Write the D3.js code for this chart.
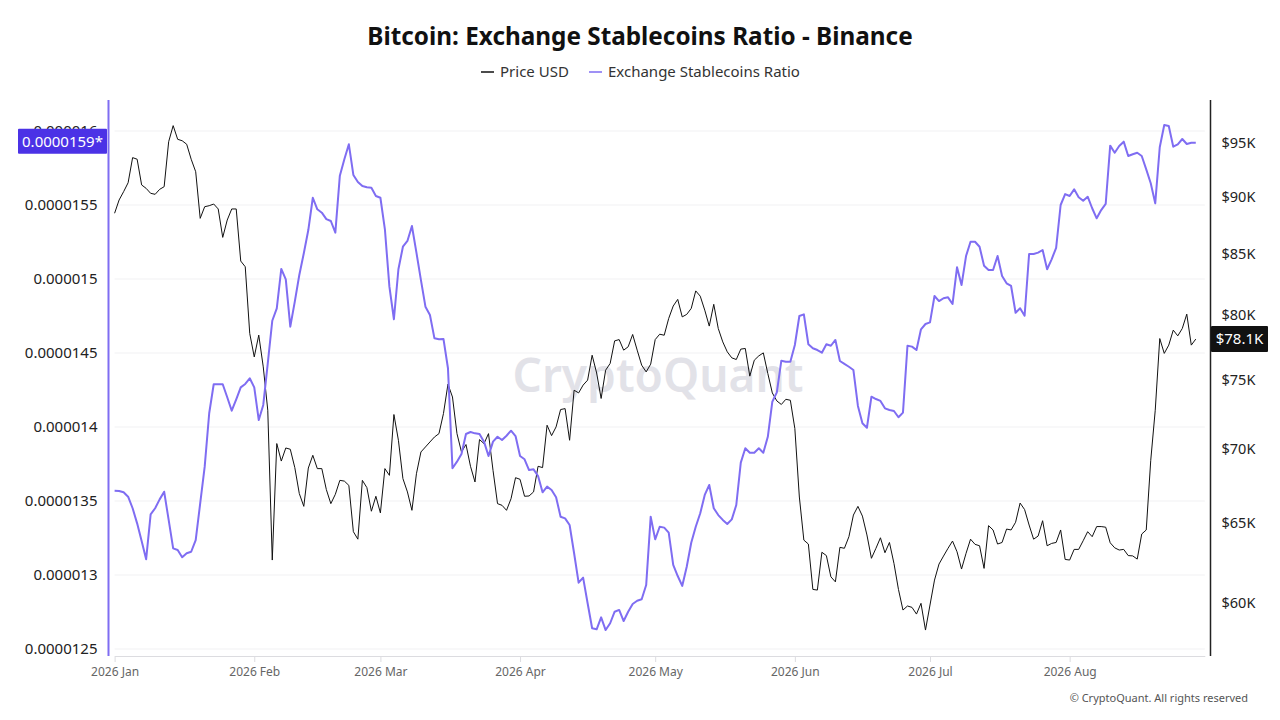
<!DOCTYPE html>
<html>
<head>
<meta charset="utf-8">
<script src="https://cdn.jsdelivr.net/npm/d3@7"></script>
<style>
  body { margin: 0; background: #fff; }
  #chart { width: 1280px; height: 720px; }
  text { font-family: "Noto Sans", "Open Sans", sans-serif; }
</style>
</head>
<body>
<div id="chart"></div>
<script>
// daily values from 2026-01-01
const priceK = [
  88.56, 89.74, 90.49, 91.30, 93.62, 93.47, 91.10, 90.79, 90.34, 90.25,
  90.70, 90.94, 95.12, 96.66, 95.35, 95.21, 94.88, 93.47, 92.31, 88.11,
  89.14, 89.23, 89.38, 88.94, 86.45, 87.96, 88.94, 88.94, 84.43, 83.95,
  78.54, 76.72, 78.41, 75.96, 72.74, 62.63, 70.36, 69.14, 70.05, 69.96,
  68.69, 66.93, 66.08, 68.66, 69.54, 68.62, 68.62, 67.20, 66.26, 66.88,
  67.82, 67.77, 67.48, 64.43, 63.95, 67.82, 67.33, 65.76, 66.75, 65.65,
  68.62, 68.16, 72.43, 70.59, 67.94, 67.04, 65.82, 68.27, 69.77, 70.12,
  70.47, 70.82, 71.06, 72.50, 74.66, 73.71, 71.06, 69.77, 70.29, 68.78,
  67.71, 70.64, 70.36, 71.06, 68.50, 66.26, 66.15, 65.82, 66.59, 68.00,
  67.89, 66.75, 66.77, 67.04, 68.78, 68.69, 71.66, 70.92, 71.54, 72.79,
  72.86, 70.59, 74.21, 74.01, 74.59, 74.96, 76.85, 75.50, 73.60, 75.71,
  76.22, 77.96, 78.06, 77.24, 77.50, 78.46, 77.24, 76.09, 75.58, 76.17,
  78.06, 78.48, 78.40, 79.73, 80.72, 81.26, 79.85, 80.05, 80.53, 81.95,
  81.52, 80.39, 79.12, 80.86, 78.93, 77.88, 77.11, 76.65, 76.52, 77.32,
  77.37, 75.26, 76.47, 76.80, 77.03, 75.46, 74.01, 73.42, 73.16, 73.54,
  73.47, 71.42, 66.70, 63.89, 63.64, 60.82, 60.78, 63.12, 62.91, 61.59,
  61.28, 63.43, 63.37, 64.11, 65.51, 66.08, 65.44, 64.22, 62.74, 63.37,
  64.04, 63.09, 63.74, 62.42, 60.82, 59.58, 59.82, 59.74, 59.34, 59.98,
  58.40, 59.88, 61.39, 62.38, 62.88, 63.37, 63.83, 63.15, 62.07, 63.05,
  63.95, 63.62, 63.53, 62.11, 64.82, 64.54, 63.64, 63.74, 64.60, 64.54,
  65.04, 66.30, 65.87, 64.86, 63.95, 64.15, 65.14, 63.53, 63.68, 63.74,
  64.54, 62.67, 62.63, 63.30, 63.30, 63.85, 64.43, 64.11, 64.76, 64.76,
  64.72, 63.72, 63.40, 63.26, 63.30, 62.91, 62.89, 62.69, 64.28, 64.54,
  69.19, 72.74, 78.14, 76.99, 77.63, 78.80, 78.35, 78.93, 80.07, 77.63, 78.10
];

// exchange stablecoins ratio, in millionths
const ratioE6 = [
  13.570, 13.568, 13.559, 13.529, 13.451, 13.349, 13.230, 13.106, 13.410, 13.451,
  13.511, 13.563, 13.372, 13.180, 13.169, 13.120, 13.147, 13.157, 13.236, 13.484,
  13.732, 14.093, 14.289, 14.289, 14.289, 14.201, 14.110, 14.187, 14.268, 14.291,
  14.329, 14.268, 14.047, 14.149, 14.430, 14.718, 14.802, 15.068, 14.998, 14.678,
  14.847, 15.027, 15.174, 15.331, 15.549, 15.471, 15.448, 15.405, 15.392, 15.313,
  15.698, 15.809, 15.910, 15.703, 15.655, 15.628, 15.620, 15.617, 15.561, 15.549,
  15.336, 14.948, 14.728, 15.066, 15.218, 15.257, 15.358, 15.178, 14.993, 14.813,
  14.757, 14.599, 14.593, 14.595, 14.397, 13.721, 13.766, 13.818, 13.953, 13.966,
  13.957, 13.953, 13.901, 13.804, 13.901, 13.934, 13.912, 13.941, 13.975, 13.939,
  13.804, 13.782, 13.709, 13.714, 13.669, 13.559, 13.597, 13.574, 13.525, 13.394,
  13.383, 13.338, 13.147, 12.948, 12.982, 12.809, 12.640, 12.633, 12.714, 12.628,
  12.674, 12.752, 12.764, 12.689, 12.752, 12.804, 12.826, 12.836, 12.932, 13.394,
  13.241, 13.326, 13.320, 13.286, 13.068, 12.993, 12.926, 13.056, 13.218, 13.326,
  13.417, 13.541, 13.608, 13.451, 13.405, 13.372, 13.345, 13.376, 13.473, 13.759,
  13.856, 13.826, 13.826, 13.856, 13.826, 13.934, 14.171, 14.234, 14.448, 14.441,
  14.441, 14.554, 14.750, 14.761, 14.559, 14.532, 14.520, 14.502, 14.559, 14.549,
  14.588, 14.446, 14.426, 14.407, 14.385, 14.142, 14.025, 13.995, 14.205, 14.189,
  14.176, 14.126, 14.115, 14.108, 14.066, 14.097, 14.549, 14.543, 14.520, 14.660,
  14.696, 14.707, 14.885, 14.851, 14.870, 14.876, 14.831, 15.079, 14.959, 15.155,
  15.252, 15.252, 15.218, 15.090, 15.061, 15.061, 15.155, 15.020, 14.971, 14.953,
  14.772, 14.802, 14.752, 15.169, 15.169, 15.178, 15.196, 15.066, 15.133, 15.211,
  15.500, 15.574, 15.561, 15.606, 15.552, 15.529, 15.556, 15.478, 15.410, 15.466,
  15.507, 15.901, 15.853, 15.899, 15.928, 15.831, 15.843, 15.853, 15.831, 15.741,
  15.647, 15.511, 15.890, 16.041, 16.034, 15.894, 15.910, 15.946, 15.912, 15.921, 15.921
];

const ratioTicks = [0.0000125, 0.000013, 0.0000135, 0.000014, 0.0000145, 0.000015, 0.0000155, 0.000016];
const priceTicks = [60000, 65000, 70000, 75000, 80000, 85000, 90000, 95000];
const monthTicks = ["2026-01-01", "2026-02-01", "2026-03-01", "2026-04-01", "2026-05-01", "2026-06-01", "2026-07-01", "2026-08-01"];

const W = 1280, H = 720;
const plotL = 114.6, plotR = 1204.8, plotT = 100, plotB = 656;
const purple = "#7f6df2";

const parse = d3.timeParse("%Y-%m-%d");
const start = parse("2026-01-01");
const data = priceK.map((p, i) => ({
  date: d3.timeDay.offset(start, i),
  price: p * 1000,
  ratio: ratioE6[i] * 1e-6
}));

const x = d3.scaleTime().domain([start, parse("2026-08-31")]).range([plotL, plotR]);
const yL = d3.scaleLinear().domain([12.4527e-6, 16.2095e-6]).range([plotB, plotT]);
const yR = d3.scaleLog().domain([56906, 99167]).range([plotB, plotT]);

const svg = d3.select("#chart").append("svg")
  .attr("width", W).attr("height", H);

svg.append("rect").attr("width", W).attr("height", H).attr("fill", "#fff");

// title + legend
svg.append("text")
  .attr("x", 640).attr("y", 45)
  .attr("text-anchor", "middle")
  .style("font-size", "24.3px").style("font-weight", 700).attr("fill", "#111")
  .text("Bitcoin: Exchange Stablecoins Ratio - Binance");

const legendItems = [
  { label: "Price USD", color: "#111", x: 481 },
  { label: "Exchange Stablecoins Ratio", color: purple, x: 589 }
];
const lg = svg.append("g").selectAll("g").data(legendItems).enter().append("g")
  .attr("transform", d => "translate(" + d.x + ",72)");
lg.append("line").attr("x1", 0).attr("x2", 13).attr("y1", 0).attr("y2", 0)
  .attr("stroke", d => d.color).attr("stroke-width", 1.5);
lg.append("text").attr("x", 19).attr("dy", "0.35em")
  .style("font-size", "15px").attr("fill", "#333")
  .text(d => d.label);

// grid
svg.append("g").selectAll("line").data(ratioTicks).enter().append("line")
  .attr("x1", plotL).attr("x2", plotR)
  .attr("y1", d => yL(d)).attr("y2", d => yL(d))
  .attr("stroke", "#f1f1f3").attr("stroke-width", 1);

// watermark
svg.append("text")
  .attr("x", 658).attr("y", 392)
  .attr("text-anchor", "middle")
  .style("font-size", "46px").style("font-weight", 600)
  .attr("fill", "#e2e2e8")
  .text("CryptoQuant");

// x axis
const xAxis = d3.axisBottom(x)
  .tickValues(monthTicks.map(parse))
  .tickFormat(d3.timeFormat("%Y %b"))
  .tickSize(6).tickSizeOuter(0).tickPadding(5);
const gx = svg.append("g").attr("transform", "translate(0," + plotB + ")").call(xAxis);
gx.select(".domain").attr("stroke", "#dcdce0");
gx.selectAll(".tick line").attr("stroke", "#dcdce0");
gx.selectAll(".tick text").style("font-size", "12px").attr("fill", "#666");

// left axis
const gl = svg.append("g").attr("transform", "translate(108.5,0)")
  .call(d3.axisLeft(yL).tickValues(ratioTicks).tickFormat(d3.format(".7~f")).tickSize(0).tickPadding(11));
gl.select(".domain").remove();
gl.selectAll(".tick text").style("font-size", "15px").attr("fill", "#222");
svg.append("line").attr("x1", 108.5).attr("x2", 108.5).attr("y1", plotT).attr("y2", plotB)
  .attr("stroke", purple).attr("stroke-width", 2);

// right axis
const gr = svg.append("g").attr("transform", "translate(1210.5,0)")
  .call(d3.axisRight(yR).tickValues(priceTicks).tickFormat(d => "$" + d / 1000 + "K").tickSize(0).tickPadding(11));
gr.select(".domain").remove();
gr.selectAll(".tick text").style("font-size", "14.5px").attr("fill", "#222");
svg.append("line").attr("x1", 1210.5).attr("x2", 1210.5).attr("y1", plotT).attr("y2", plotB)
  .attr("stroke", "#222").attr("stroke-width", 1.5);

// lines
svg.append("path").datum(data)
  .attr("fill", "none").attr("stroke", "#111").attr("stroke-width", 1)
  .attr("stroke-linejoin", "round")
  .attr("d", d3.line().x(d => x(d.date)).y(d => yR(d.price)));

svg.append("path").datum(data)
  .attr("fill", "none").attr("stroke", purple).attr("stroke-width", 2)
  .attr("stroke-linejoin", "round")
  .attr("d", d3.line().x(d => x(d.date)).y(d => yL(d.ratio)));

// last value badges (the ratio badge sits over the top tick label, as in the source chart)
const last = data[data.length - 1];
const by = yL(last.ratio) - 1;
svg.append("rect").attr("x", 18).attr("y", by - 13).attr("width", 89).attr("height", 25)
  .attr("fill", "#4b32e6").attr("rx", 1);
svg.append("text").attr("x", 62.5).attr("y", by).attr("dy", "0.35em")
  .attr("text-anchor", "middle").style("font-size", "15px").attr("fill", "#fff")
  .text(d3.format(".7f")(last.ratio) + "*");

const ry = yR(last.price);
svg.append("rect").attr("x", 1211).attr("y", ry - 13).attr("width", 57).attr("height", 26)
  .attr("fill", "#111").attr("rx", 1);
svg.append("text").attr("x", 1239.5).attr("y", ry).attr("dy", "0.35em")
  .attr("text-anchor", "middle").style("font-size", "15px").attr("fill", "#fff")
  .text("$" + (last.price / 1000).toFixed(1) + "K");

// footer
svg.append("text").attr("x", 1248).attr("y", 702)
  .attr("text-anchor", "end").style("font-size", "11px").attr("fill", "#555")
  .text("\u00a9 CryptoQuant. All rights reserved");
</script>
</body>
</html>
